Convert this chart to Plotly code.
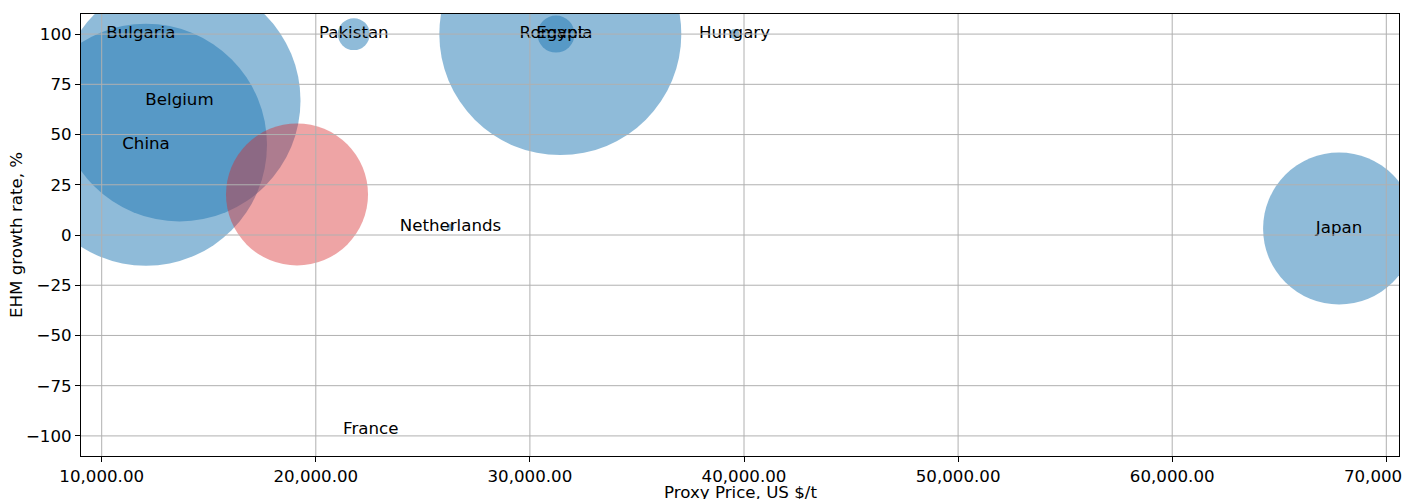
import plotly.graph_objects as go

# ---- data ----
countries = ["Bulgaria", "China", "Belgium", "Pakistan", "France", "Netherlands",
             "Romania", "Egypt", "Hungary", "Japan"]
proxy_price = [11830, 12069, 13634, 21775, 22569, 26291, 31219, 31420, 39556, 67795]
growth_rate = [100, 44.9, 67.0, 100, -97, 3.9, 100, 100, 100, 3.2]
volume = [0, 5000, 5000, 87, 0, 4.2, 117, 5000, 8.5, 1973]

highlight_price = [19122]
highlight_growth = [20.2]
highlight_volume = [1722]

x_ticks = [10000, 20000, 30000, 40000, 50000, 60000, 70000]
y_ticks = [-100, -75, -50, -25, 0, 25, 50, 75, 100]

FONT = "DejaVu Sans"
FS = 16.67
MAX_D = 242
sizeref = 2 * max(volume) / (MAX_D ** 2)

fig = go.Figure()
fig.add_trace(go.Scatter(
    x=proxy_price, y=growth_rate, mode="markers",
    marker=dict(size=volume, sizemode="area", sizeref=sizeref, opacity=1,
                color="rgba(31,119,180,0.5)", line=dict(width=0)),
    hoverinfo="skip", showlegend=False))
fig.add_trace(go.Scatter(
    x=highlight_price, y=highlight_growth, mode="markers",
    marker=dict(size=highlight_volume, sizemode="area", sizeref=sizeref, opacity=1,
                color="rgba(214,39,40,0.42)", line=dict(width=0)),
    hoverinfo="skip", showlegend=False))
fig.add_trace(go.Scatter(
    x=proxy_price, y=growth_rate, mode="text", text=countries,
    textposition="middle center",
    textfont=dict(family=FONT, size=FS, color="black"),
    hoverinfo="skip", showlegend=False))

shapes = []
for v in x_ticks:
    shapes.append(dict(type="line", xref="x", yref="paper", x0=v, x1=v, y0=0, y1=1,
                       line=dict(color="#b0b0b0", width=1), layer="above"))
for v in y_ticks:
    shapes.append(dict(type="line", xref="paper", yref="y", x0=0, x1=1, y0=v, y1=v,
                       line=dict(color="#b0b0b0", width=1), layer="above"))

axis_common = dict(showline=True, mirror=True, linecolor="black", linewidth=1,
                   ticks="outside", ticklen=5, tickwidth=1, tickcolor="black",
                   showgrid=False, zeroline=False,
                   tickfont=dict(family=FONT, size=FS, color="black"))

fig.update_layout(
    width=1402, height=499,
    margin=dict(l=81, r=3, t=14, b=43, autoexpand=False),
    paper_bgcolor="white", plot_bgcolor="white",
    xaxis=dict(range=[9033, 70593], tickvals=x_ticks, tickformat=",.2f",
               automargin=False, ticklabeloverflow="allow", **axis_common),
    yaxis=dict(range=[-110, 110], tickvals=y_ticks, automargin=False, **axis_common),
    shapes=shapes,
    annotations=[
        dict(text="Proxy Price, US $/t", xref="paper", yref="paper", x=0.5, y=-0.056,
             xanchor="center", yanchor="top", showarrow=False,
             font=dict(family=FONT, size=FS, color="black")),
        dict(text="EHM growth rate, %", xref="paper", yref="paper", x=-0.0493, y=0.5,
             xanchor="center", yanchor="middle", textangle=-90, showarrow=False,
             font=dict(family=FONT, size=FS, color="black")),
    ],
)

fig.write_html("out.html", config={"displayModeBar": False},
               post_script="document.body.style.margin='0';document.body.style.overflow='hidden';")
